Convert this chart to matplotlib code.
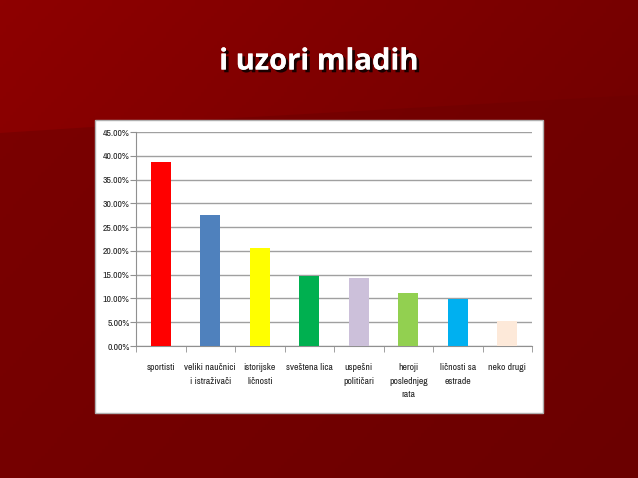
import numpy as np
import matplotlib
matplotlib.use("Agg")
import matplotlib.pyplot as plt
import matplotlib.patheffects as pe
from matplotlib import font_manager
from matplotlib.patches import Rectangle, Polygon
from matplotlib.colors import LinearSegmentedColormap
from matplotlib.ticker import FuncFormatter, MultipleLocator

categories = ["sportisti", "veliki naučnici\ni istraživači", "istorijske\nličnosti",
              "sveštena lica", "uspešni\npolitičari", "heroji\nposlednjeg\nrata",
              "ličnosti sa\nestrade", "neko drugi"]
values = [38.6, 27.6, 20.7, 14.8, 14.4, 11.1, 9.8, 5.3]
colors = ["#FF0000", "#4F81BD", "#FFFF00", "#00B050", "#CCC0DA", "#92D050", "#00B0F0", "#FDE9D9"]

# pick a narrow font if one is installed (the original looks like Calibri)
narrow = None
names = sorted({f.name for f in font_manager.fontManager.ttflist})
for n in names:
    if "Narrow" in n or "Condensed" in n:
        narrow = n
        break
if narrow:
    tick_font, tick_size = [narrow, "DejaVu Sans"], 7
else:
    tick_font, tick_size = ["Liberation Sans", "DejaVu Sans"], 6.2

W, H = 638, 478
fig = plt.figure(figsize=(W / 100, H / 100), dpi=100)

# slide background
bg = fig.add_axes([0, 0, 1, 1])
bg.set_xlim(0, W)
bg.set_ylim(H, 0)
bg.axis("off")
xx, yy = np.meshgrid(np.linspace(0, 1, 200), np.linspace(0, 1, 150))
grad = 1 - np.clip(0.6 * xx + 0.4 * yy, 0, 1)
cmap = LinearSegmentedColormap.from_list("slide", ["#680000", "#8E0000"])
bg.imshow(grad, cmap=cmap, extent=[0, W, H, 0], aspect="auto", zorder=0)
bg.add_patch(Polygon([[0, H], [0, 133], [200, 120], [W, 95], [W, H]],
                     closed=True, color="#6E0000", alpha=0.55, zorder=1, lw=0))

# white chart panel
bg.add_patch(Rectangle((95, 120), 448, 293, facecolor="white", edgecolor="#B0B0B0", lw=1, zorder=2))

bg.text(319, 62, "i uzori mladih", ha="center", va="center", color="white",
        fontsize=21, fontweight="bold", family=["Open Sans", "DejaVu Sans"], zorder=3,
        path_effects=[pe.withSimplePatchShadow(offset=(2, -2), shadow_rgbFace="black", alpha=0.8),
                      pe.Normal()])

# chart axes
ax = fig.add_axes([136 / W, 1 - 346 / H, (532 - 136) / W, (346 - 132) / H])
ax.set_facecolor("white")
x = np.arange(len(categories))
ax.bar(x, values, width=0.4, color=colors, zorder=3)
ax.set_xlim(-0.5, len(categories) - 0.5)
ax.set_ylim(0, 45)
ax.yaxis.set_major_locator(MultipleLocator(5))
ax.yaxis.set_major_formatter(FuncFormatter(lambda v, p: f"{v:.2f}%"))
ax.grid(axis="y", color="#A0A0A0", lw=1, zorder=0)
for s in ["top", "right"]:
    ax.spines[s].set_visible(False)
ax.spines["left"].set_color("#909090")
ax.spines["bottom"].set_color("#909090")

ax.set_xticks(x)
ax.set_xticklabels(categories, linespacing=1.7)
ax.set_xticks(np.arange(-0.5, len(categories)), minor=True)
ax.tick_params(axis="x", which="major", length=0, pad=12)
ax.tick_params(axis="x", which="minor", length=4, color="#909090", direction="out")
ax.tick_params(axis="y", length=4, color="#909090", direction="out", pad=0.5)
for lab in ax.get_xticklabels() + ax.get_yticklabels():
    lab.set_family(tick_font)
    lab.set_fontsize(tick_size)
    lab.set_color("#222222")

fig.savefig("out.png", dpi=100)
